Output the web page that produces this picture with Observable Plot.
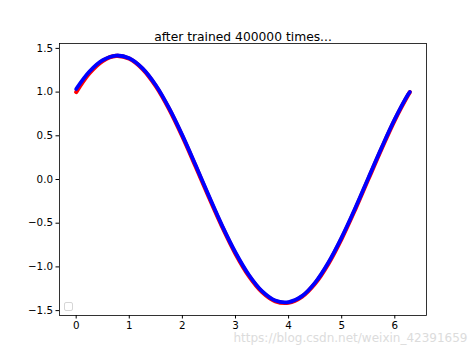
<!DOCTYPE html>
<html>
<head>
<meta charset="utf-8">
<script src="https://cdn.jsdelivr.net/npm/d3@7"></script>
<script src="https://cdn.jsdelivr.net/npm/@observablehq/plot@0.6"></script>
<style>
  html, body { margin: 0; padding: 0; background: #fff; }
  #chart svg { font-family: "DejaVu Sans", sans-serif; }
</style>
</head>
<body>
<div id="chart"></div>
<script>
const title = "after trained 400000 times...";
const watermark = "https://blog.csdn.net/weixin_42391659";
const xs = [0, 0.25, 0.5, 0.75, 1.0, 1.25, 1.5, 1.75, 2.0, 2.25, 2.5, 2.75, 3.0, 3.25, 3.5, 3.75, 4.0, 4.25, 4.5, 4.75, 5.0, 5.25, 5.5, 5.75, 6.0, 6.25, 6.283];
const trueY = [1.00, 1.216, 1.357, 1.414, 1.382, 1.264, 1.068, 0.806, 0.493, 0.150, -0.203, -0.542, -0.849, -1.102, -1.287, -1.392, -1.410, -1.341, -1.189, -0.962, -0.675, -0.347, 0.003, 0.351, 0.681, 0.966, 1.00];
const predY = [1.035, 1.235, 1.365, 1.418, 1.388, 1.272, 1.078, 0.816, 0.505, 0.162, -0.19, -0.53, -0.835, -1.09, -1.278, -1.385, -1.402, -1.335, -1.18, -0.95, -0.662, -0.335, 0.015, 0.362, 0.69, 0.972, 1.0];
const xTicks = [0, 1, 2, 3, 4, 5, 6];
const yTicks = [-1.5, -1.0, -0.5, 0.0, 0.5, 1.0, 1.5];

const trueData = xs.map((x, i) => ({x, y: trueY[i]}));
const predData = xs.map((x, i) => ({x, y: predY[i]}));

const chart = Plot.plot({
  width: 474,
  height: 355,
  marginLeft: 59,
  marginRight: 48,
  marginTop: 43,
  marginBottom: 40,
  style: {fontSize: "10.3px", fontFamily: "DejaVu Sans, sans-serif", color: "#000", background: "#fff"},
  x: {domain: [-0.314, 6.597], label: null},
  y: {domain: [-1.556, 1.556], label: null},
  marks: [
    Plot.frame({stroke: "#000", strokeWidth: 0.8}),
    Plot.axisX({ticks: xTicks, tickSize: 3.5, tickPadding: 3, tickFormat: d3.format("d"), label: null, fontSize: 10.3}),
    Plot.axisY({ticks: yTicks, tickSize: 3.5, tickPadding: 3, tickFormat: d3.format(".1f"), label: null, fontSize: 10.3}),
    Plot.line(trueData, {x: "x", y: "y", stroke: "red", strokeWidth: 4.2, curve: "catmull-rom"}),
    Plot.line(predData, {x: "x", y: "y", stroke: "blue", strokeWidth: 3.8, curve: "catmull-rom"}),
    Plot.text([title], {frameAnchor: "top", dy: -11, text: d => d, fontSize: 12.3, fill: "#000"}),
    Plot.text([watermark], {frameAnchor: "bottom-right", dx: 41, dy: 26, text: d => d, fontSize: 12, fill: "#dcdcdc", textAnchor: "end"})
  ]
});

// empty legend frame at the lower-left corner of the axes
const svg = d3.select(chart);
svg.append("rect")
  .attr("x", 64.5).attr("y", 302.5)
  .attr("width", 8).attr("height", 8)
  .attr("rx", 1.5)
  .attr("fill", "#fff")
  .attr("stroke", "#d6d6d6")
  .attr("stroke-width", 1);

document.getElementById("chart").appendChild(chart);
</script>
</body>
</html>
